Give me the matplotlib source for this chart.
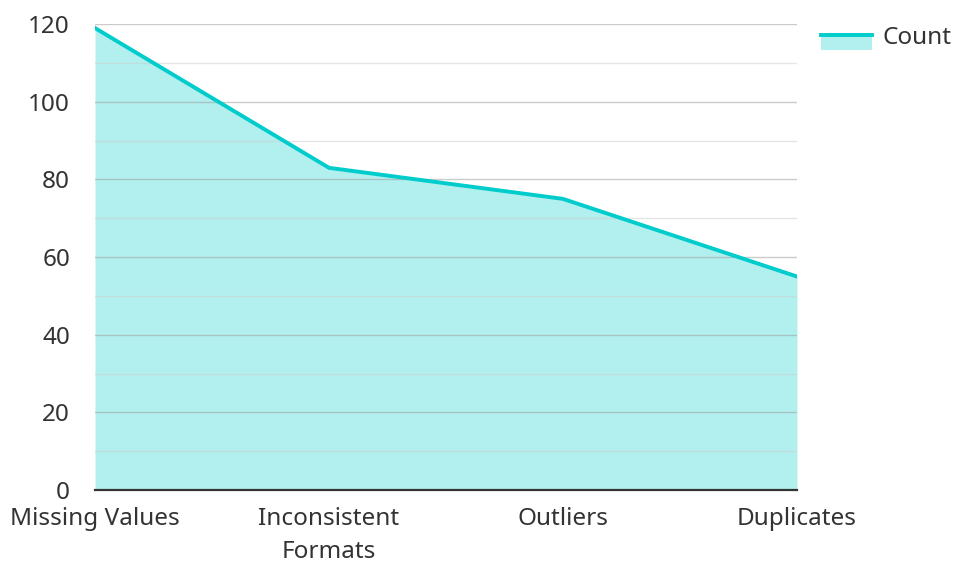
import numpy as np
import matplotlib.pyplot as plt
from matplotlib.patches import Rectangle
from matplotlib.lines import Line2D

categories = ["Missing Values", "Inconsistent\nFormats", "Outliers", "Duplicates"]
counts = [119, 83, 75, 55]

line_col = "#00CCCC"
fill_col = "#B2EFEF"
text_col = "#333333"

plt.rcParams['font.family'] = ['Noto Sans', 'DejaVu Sans']

fig = plt.figure(figsize=(9.55, 5.62), dpi=100)
ax = fig.add_axes([0.0995, 0.128, 0.735, 0.829])

x = np.arange(len(categories))
ax.fill_between(x, counts, 0, color=fill_col, lw=0, zorder=1)
ax.plot(x, counts, color=line_col, lw=2.8, zorder=3, solid_joinstyle='miter')

ax.set_xlim(0, len(categories) - 1)
ax.set_ylim(0, 120)
ax.set_yticks(np.arange(0, 121, 20))
ax.set_yticks(np.arange(10, 120, 20), minor=True)
ax.grid(axis='y', which='major', color='#999999', lw=1, alpha=0.5, zorder=2)
ax.grid(axis='y', which='minor', color='#cccccc', lw=1, alpha=0.5, zorder=2)
ax.set_axisbelow(False)

fs = 17.5
ax.set_xticks(x)
ax.set_xticklabels(categories, fontsize=fs, color=text_col, linespacing=1.5)
ax.tick_params(axis='both', which='both', length=0, labelsize=fs, labelcolor=text_col)
ax.tick_params(axis='x', pad=12)
ax.tick_params(axis='y', pad=18)

for s in ['top', 'right', 'left']:
    ax.spines[s].set_visible(False)
ax.spines['bottom'].set_color('#333333')
ax.spines['bottom'].set_linewidth(1.6)
ax.spines['bottom'].set_zorder(4)


class FillLineHandler:
    def legend_artist(self, legend, orig_handle, fontsize, handlebox):
        x0, y0 = handlebox.xdescent, handlebox.ydescent
        w, h = handlebox.width, handlebox.height
        t = handlebox.get_transform()
        rect = Rectangle((x0, y0 - h * 0.3), w, h * 0.85, facecolor=fill_col,
                         lw=0, transform=t)
        ln = Line2D([x0, x0 + w], [y0 + h * 0.55] * 2, color=line_col, lw=2.8,
                    transform=t)
        handlebox.add_artist(rect)
        handlebox.add_artist(ln)
        return rect


leg = fig.legend([object()], ["Count"], handler_map={object: FillLineHandler()},
                 loc='upper left', bbox_to_anchor=(0.852, 0.966), frameon=False,
                 fontsize=fs, handlelength=2.1, handletextpad=0.42,
                 borderaxespad=0, borderpad=0.3)
for t in leg.get_texts():
    t.set_color(text_col)

fig.savefig("out.png", dpi=100)
